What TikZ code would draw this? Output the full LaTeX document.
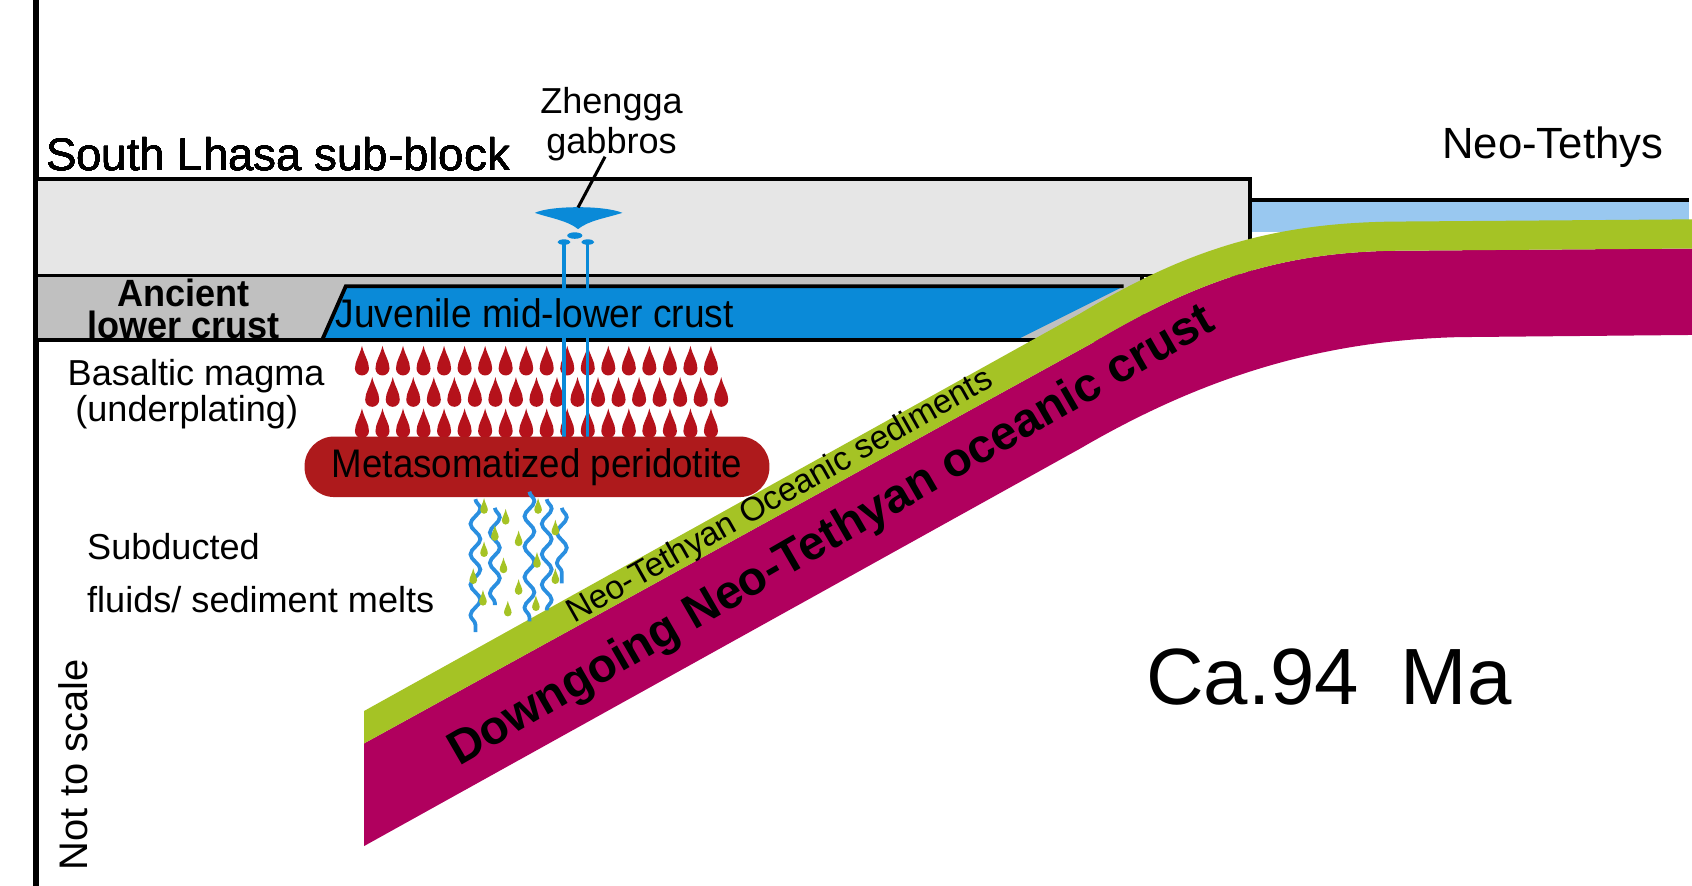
\documentclass[tikz,border=0pt]{standalone}
\usepackage{fontspec}
\setmainfont{Liberation Sans}
\usetikzlibrary{decorations.pathmorphing}
\definecolor{lgray}{HTML}{E6E6E6}
\definecolor{mgray}{HTML}{C0C0C0}
\definecolor{jblue}{HTML}{0A8AD8}
\definecolor{sblue}{HTML}{99C8F0}
\definecolor{sedgreen}{HTML}{A5C325}
\definecolor{crust}{HTML}{B0005E}
\definecolor{magma}{HTML}{B5121B}
\definecolor{perid}{HTML}{AE1A1C}
\definecolor{fblue}{HTML}{2A8FE0}
\tikzset{
  lbl/.style={inner sep=0pt,font=\fontsize{9.5}{11}\selectfont,align=center},
  fluid/.style={draw=fblue,line width=1pt,decorate,decoration={snake,amplitude=1.3pt,segment length=8pt}}
}
\newcommand{\mydrop}[2]{\fill[magma,shift={(#1,#2)}] (0,-16) .. controls (2,-7) and (6.5,-2) .. (6.5,5) arc[start angle=0,end angle=-180,radius=0.065cm] .. controls (-6.5,-2) and (-2,-7) .. (0,-16);}
\newcommand{\mygdrop}[2]{\fill[sedgreen,shift={(#1,#2)}] (0,-9) .. controls (1,-4) and (3.5,-1) .. (3.5,2) arc[start angle=0,end angle=-180,radius=0.035cm] .. controls (-3.5,-1) and (-1,-4) .. (0,-9);}
\begin{document}
\begin{tikzpicture}[x=0.01cm,y=-0.01cm]
\useasboundingbox (0,0) rectangle (1566,820);
\draw[line width=1.5pt] (33,0) -- (33,820);
% upper crust
\draw[fill=lgray,line width=1pt] (33,166) rectangle (1157,255);
\draw[fill=mgray,line width=1pt] (33,255) rectangle (1057,315);
\fill[jblue] (298,315) -- (320,265) -- (1040,265) -- (940,315) -- cycle;
\draw[line width=1pt] (298,315) -- (320,265) -- (1040,265);
\draw[line width=1pt] (33,315) -- (960,315);
% ocean
\fill[sblue] (1157,185) rectangle (1563,215);
\draw[line width=1pt] (1157,185) -- (1563,185);
\draw[line width=1pt] (1157,166) -- (1157,222);
% slab
\fill[crust] (337,688) -- (1010,318) .. controls (1110,258) and (1190,232) .. (1300,232) -- (1566,230)
  -- (1566,310) -- (1350,312) .. controls (1230,315) and (1120,345) .. (1000,415) -- (337,783) -- cycle;
\fill[sedgreen] (337,658) -- (1000,290) .. controls (1100,230) and (1180,205) .. (1300,205) -- (1566,203)
  -- (1566,230) -- (1300,232) .. controls (1190,232) and (1110,258) .. (1010,318) -- (337,688) -- cycle;
% magma drops
\foreach \x in {335,354,...,670} {\mydrop{\x}{336}\mydrop{\x}{394}}
\foreach \x in {344.5,363.5,...,670} {\mydrop{\x}{365}}
% gabbro
\fill[jblue] (495,197) .. controls (510,190) and (560,190) .. (576,197) .. controls (560,202) and (545,204) .. (535,212) .. controls (525,204) and (510,202) .. (495,197) -- cycle;
\fill[jblue] (532,218) ellipse (7 and 3);
\fill[jblue] (522,224) ellipse (6 and 2.5);
\fill[jblue] (544,224) ellipse (6 and 2.5);
\draw[jblue,line width=0.8pt] (522,224) -- (522,410) (544,224) -- (544,410);
% peridotite
\node[fill=perid,rounded corners=7.8pt,minimum width=4.3cm,minimum height=0.56cm,inner sep=0pt,font=\fontsize{10.5}{12}\selectfont] (per) at (497,432) {\scalebox{0.92}[1]{Metasomatized peridotite}};
% fluids
\foreach \x/\a/\b in {440/462/585,458/470/560,490/455/575,506/462/565,520/470/540}
  \draw[fluid] (\x,\a) -- (\x,\b);
\foreach \x/\y in {448/470,448/510,447/555,468/480,466/525,470/565,480/500,498/470,497/520,496/560,514/490,514/535,512/575,438/535,458/495,480/545}
  \mygdrop{\x}{\y}
% labels
\node[lbl,anchor=base west,font=\fontsize{12}{14}\selectfont] (slb) at (42,158) {South Lhasa sub-block};
\node[lbl,anchor=base east,font=\fontsize{11.5}{14}\selectfont] (nt) at (1540,147) {Neo-Tethys};
\node[lbl,font=\fontsize{9.5}{10.5}\selectfont] (zg) at (566,115) {Zhengga\\gabbros};
\coordinate (zgend) at (535,192);
\draw[line width=0.8pt] (560,145) -- (zgend);
\node[lbl,font=\bfseries\fontsize{10}{8.5}\selectfont] (alc) at (170,286) {\scalebox{0.95}[1]{Ancient}\\\scalebox{0.95}[1]{lower crust}};
\node[lbl,anchor=west,font=\fontsize{10.5}{12}\selectfont] (jc) at (310,290) {\scalebox{0.93}[1]{Juvenile mid-lower crust}};
\node[lbl,anchor=north west,align=left,font=\fontsize{9.5}{9.5}\selectfont] (bm) at (62,332) {Basaltic magma\\\hspace{2pt}(underplating)};
\node[lbl,anchor=base west,font=\fontsize{9.5}{11}\selectfont] (sb) at (80,518) {Subducted};
\node[lbl,anchor=base west,font=\fontsize{9.5}{11}\selectfont] (fl) at (80,567) {fluids/ sediment melts};
\node[lbl,rotate=90,anchor=south west,font=\fontsize{10.5}{11}\selectfont] (nts) at (82,806) {Not to scale};
\node[lbl,anchor=base west,font=\fontsize{21}{24}\selectfont] (ca) at (1060,652) {Ca.94\hspace{0.25em} Ma};
\node[lbl,rotate=29.5,font=\fontsize{8.8}{10}\selectfont] (sed) at (722,460) {Neo-Tethyan Oceanic sediments};
\node[lbl,rotate=30,font=\bfseries\fontsize{12.5}{14}\selectfont] (dg) at (770,497) {Downgoing Neo-Tethyan oceanic crust};
\end{tikzpicture}
\end{document}
